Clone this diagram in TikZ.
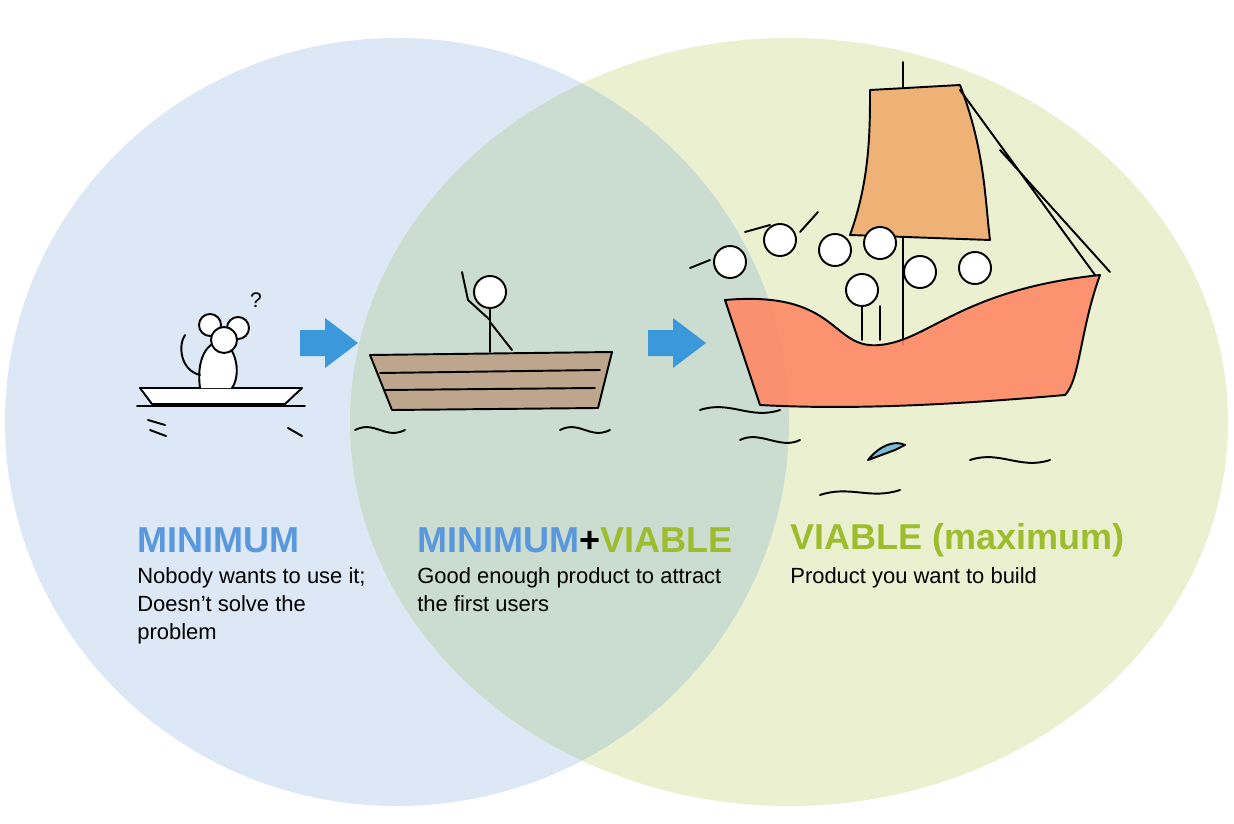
\documentclass[tikz,border=0pt]{standalone}
\usepackage{fontspec}
\setmainfont{Liberation Sans}
\begin{document}
\begin{tikzpicture}[x=0.02cm,y=-0.02cm,
  head/.style={font=\bfseries\fontsize{20.5}{24}\selectfont,inner sep=0pt},
  body/.style={font=\fontsize{12.5}{16}\selectfont,align=left,anchor=north west,inner sep=0pt},
  sk/.style={line width=1.1pt,line cap=round,line join=round},
  barrow/.style={fill=cyan!70!blue!80,draw=none},
  hd/.style={sk,fill=white}]
\definecolor{lblue}{HTML}{DCE8F6}
\definecolor{lgreen}{HTML}{EBF1D0}
\definecolor{mix}{HTML}{CADDD0}
\definecolor{tblue}{HTML}{5A98DE}
\definecolor{tgreen}{HTML}{9DBD2E}
\useasboundingbox (0,0) rectangle (1234,824);
\fill[white] (0,0) rectangle (1234,824);
\fill[lblue] (397,422) ellipse [x radius=392,y radius=384];
\fill[lgreen] (789,422) ellipse [x radius=439,y radius=384];
\begin{scope}
\clip (397,422) ellipse [x radius=392,y radius=384];
\fill[mix] (789,422) ellipse [x radius=439,y radius=384];
\end{scope}
% boat 1 with mouse
\draw[sk,fill=white] (140,388) -- (302,388) -- (285,404) -- (152,404) -- cycle;
\draw[sk] (137,406) -- (305,406);
\draw[sk,fill=white] (200,388) .. controls (195,350) and (215,335) .. (228,345) .. controls (240,360) and (238,380) .. (232,388);
\draw[sk,fill=white] (210,325) circle (11);
\draw[sk,fill=white] (238,328) circle (11);
\draw[sk,fill=white] (224,340) circle (13);
\draw[sk] (200,375) .. controls (180,370) and (178,345) .. (185,335);
\node[font=\fontsize{12}{12}\selectfont] (q) at (256,300) {?};
\draw[sk] (148,420) -- (165,425) (150,430) -- (166,436) (288,428) -- (302,436);
% arrow 1
\fill[barrow] (300,330) -- (325,330) -- (325,318) -- (358,343) -- (325,368) -- (325,356) -- (300,356) -- cycle;
% boat 2
\draw[sk,fill=brown!55!gray!70] (370,355) -- (612,352) -- (598,408) -- (392,410) -- cycle;
\draw[sk] (380,373) -- (600,370) (385,390) -- (595,388);
\draw[sk,fill=white] (490,292) circle (16);
\draw[sk] (490,308) -- (490,352) (490,320) -- (468,300) -- (462,272) (490,322) -- (512,350);
\draw[sk] (355,430) .. controls (375,420) and (385,440) .. (405,430) (560,430) .. controls (580,420) and (590,440) .. (610,430);
% arrow 2
\fill[barrow] (648,330) -- (673,330) -- (673,318) -- (706,343) -- (673,368) -- (673,356) -- (648,356) -- cycle;
% ship
\draw[sk] (903,62) -- (903,345);
\draw[sk,fill=orange!55!brown!60] (870,90) -- (960,85) .. controls (985,150) and (985,200) .. (990,240) -- (850,235) .. controls (870,180) and (870,130) .. (870,90) -- cycle;
\draw[sk] (960,90) -- (1095,275) (1000,150) -- (1110,272);
\draw[sk,fill=red!55!orange!60,fill opacity=0.9] (725,300) .. controls (840,290) and (830,350) .. (880,345) .. controls (930,340) and (960,290) .. (1100,275) .. controls (1080,330) and (1080,380) .. (1065,395) .. controls (950,405) and (850,410) .. (760,405) .. controls (745,360) and (735,330) .. (725,300) -- cycle;
\foreach \x/\y in {730/262,780/240,835/250,880/243,920/272,975/268,862/290}{\draw[hd] (\x,\y) circle (16);}
\draw[sk] (710,260) -- (690,268) (770,225) -- (745,232) (800,232) -- (818,212) (862,306) -- (862,340) (880,306) -- (880,340);
\draw[sk] (700,410) .. controls (730,400) and (750,420) .. (780,410) (740,440) .. controls (760,430) and (780,450) .. (800,440) (970,460) .. controls (1000,450) and (1020,470) .. (1050,460) (820,495) .. controls (850,485) and (870,500) .. (900,490);
\draw[sk,fill=cyan!50!teal!60] (868,460) .. controls (880,445) and (895,440) .. (905,445) -- (895,450) -- cycle;
% texts
\node[head,anchor=west,text=tblue] (m) at (137,540) {MINIMUM};
\node[body] (mt) at (137,567) {Nobody wants to use it;\\Doesn't solve the\\problem};
\node[head,anchor=west] (mv) at (417,540) {\textcolor{tblue}{MINIMUM}+\textcolor{tgreen}{VIABLE}};
\node[body] (mvt) at (417,567) {Good enough product to attract\\the first users};
\node[head,anchor=west,text=tgreen] (v) at (790,540) {VIABLE (maximum)};
\node[body] (vt) at (790,567) {Product you want to build};
\end{tikzpicture}
\end{document}
